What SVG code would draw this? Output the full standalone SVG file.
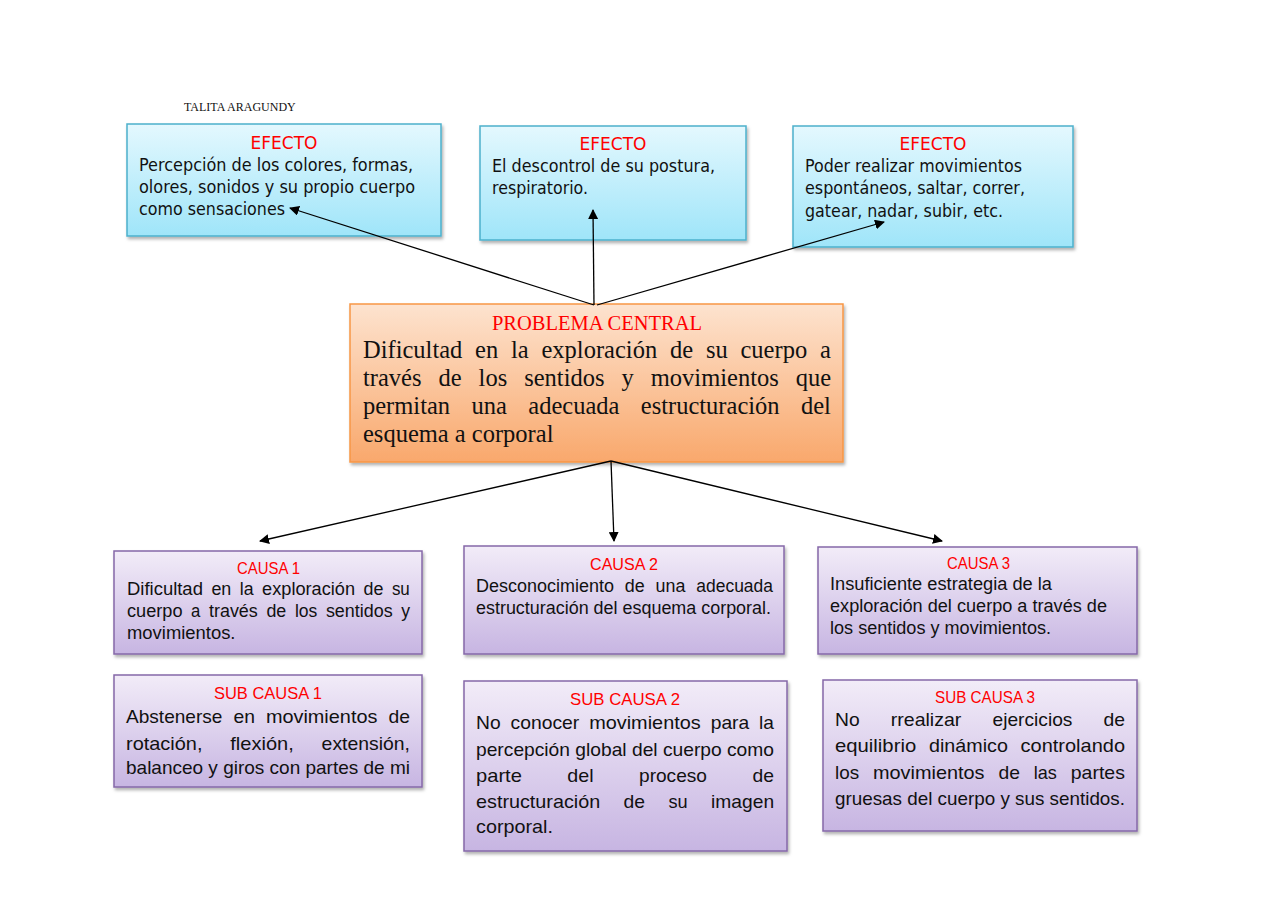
<svg xmlns="http://www.w3.org/2000/svg" width="1280" height="906" viewBox="0 0 1280 906">
<defs>
<linearGradient id="gBlue" x1="0" y1="0" x2="0" y2="1"><stop offset="0" stop-color="#e4f8fe"/><stop offset="1" stop-color="#9fe5f9"/></linearGradient>
<linearGradient id="gOrange" x1="0" y1="0" x2="0" y2="1"><stop offset="0" stop-color="#fde3cf"/><stop offset="1" stop-color="#f9a86c"/></linearGradient>
<linearGradient id="gPurple" x1="0" y1="0" x2="0" y2="1"><stop offset="0" stop-color="#f2ecf8"/><stop offset="1" stop-color="#c7b5e2"/></linearGradient>
<filter id="sh" x="-5%" y="-5%" width="112%" height="120%"><feDropShadow dx="1.5" dy="2.5" stdDeviation="1.5" flood-color="#000" flood-opacity="0.3"/></filter>
<marker id="ah" viewBox="0 0 10 10" refX="9" refY="5" markerWidth="10" markerHeight="10" markerUnits="userSpaceOnUse" orient="auto"><path d="M0,0 L10,5 L0,10 z" fill="#000"/></marker>
</defs>
<style>
.blue{fill:url(#gBlue);stroke:#4cb0cc;stroke-width:1.5}
.orange{fill:url(#gOrange);stroke:#f79646;stroke-width:1.5}
.purple{fill:url(#gPurple);stroke:#8568a8;stroke-width:1.5}
.ttl{fill:#ff0000;font-family:"DejaVu Sans",sans-serif;font-size:17px;text-anchor:middle}
.ttlc{fill:#ff0000;font-family:"Liberation Sans",sans-serif;font-size:17px}
.eff{fill:#111;font-family:"DejaVu Sans",sans-serif;font-size:17px}
.cen{fill:#111;font-family:"Liberation Serif",serif;font-size:24.5px}
.cau{fill:#111;font-family:"Liberation Sans",sans-serif;font-size:17.5px}
.sub{fill:#111;font-family:"Liberation Sans",sans-serif;font-size:19px}
.conn line{stroke:#000;stroke-width:1.3;marker-end:url(#ah)}
</style>
<rect width="1280" height="906" fill="#fff"/>
<text x="184" y="111" font-family="Liberation Serif, serif" font-size="12" fill="#111">TALITA ARAGUNDY</text>

<g id="efecto1">
<rect x="127" y="124" width="314" height="112" class="blue" filter="url(#sh)"/>
<text x="284" y="149" class="ttl">EFECTO</text>
<text x="139" y="171" class="eff" textLength="274" lengthAdjust="spacingAndGlyphs">Percepción de los colores, formas,</text>
<text x="139" y="193" class="eff" textLength="276" lengthAdjust="spacingAndGlyphs">olores, sonidos y su propio cuerpo</text>
<text x="139" y="215" class="eff" textLength="146" lengthAdjust="spacingAndGlyphs">como sensaciones</text>
</g>
<g id="efecto2">
<rect x="480" y="126" width="266" height="114" class="blue" filter="url(#sh)"/>
<text x="613" y="150" class="ttl">EFECTO</text>
<text x="492" y="172" class="eff" textLength="223" lengthAdjust="spacingAndGlyphs">El descontrol de su postura,</text>
<text x="492" y="194" class="eff" textLength="96" lengthAdjust="spacingAndGlyphs">respiratorio.</text>
</g>
<g id="efecto3">
<rect x="793" y="126" width="280" height="121" class="blue" filter="url(#sh)"/>
<text x="933" y="150" class="ttl">EFECTO</text>
<text x="805" y="172" class="eff" textLength="217" lengthAdjust="spacingAndGlyphs">Poder realizar movimientos</text>
<text x="805" y="194" class="eff" textLength="220" lengthAdjust="spacingAndGlyphs">espontáneos, saltar, correr,</text>
<text x="805" y="217" class="eff" textLength="198" lengthAdjust="spacingAndGlyphs">gatear, nadar, subir, etc.</text>
</g>

<g id="problema">
<rect x="350" y="304" width="493" height="158" class="orange" filter="url(#sh)"/>
<text x="597" y="330" fill="#ff0000" font-family="Liberation Serif, serif" font-size="20.5" text-anchor="middle">PROBLEMA CENTRAL</text>
<text y="358" class="cen"><tspan x="363">Dificultad</tspan> <tspan x="475.1">en</tspan> <tspan x="511">la</tspan> <tspan x="541.5">exploración</tspan> <tspan x="670">de</tspan> <tspan x="705.9">su</tspan> <tspan x="740.5">cuerpo</tspan> <tspan x="820">a</tspan></text>
<text y="386" class="cen"><tspan x="363">través</tspan> <tspan x="438.5">de</tspan> <tspan x="478.6">los</tspan> <tspan x="524.2">sentidos</tspan> <tspan x="621.5">y</tspan> <tspan x="650.8">movimientos</tspan> <tspan x="795.8">que</tspan></text>
<text y="414" class="cen"><tspan x="363">permitan</tspan> <tspan x="471.5">una</tspan> <tspan x="528.3">adecuada</tspan> <tspan x="640.8">estructuración</tspan> <tspan x="801">del</tspan></text>
<text x="363" y="442" class="cen">esquema a corporal</text>
</g>

<g id="causa1">
<rect x="114" y="551" width="308" height="103" class="purple" filter="url(#sh)"/>
<text x="237" y="574" class="ttlc" textLength="63" lengthAdjust="spacingAndGlyphs">CAUSA 1</text>
<text y="595" class="cau"><tspan x="127" textLength="75.9" lengthAdjust="spacingAndGlyphs">Dificultad</tspan> <tspan x="211.4" textLength="19.9" lengthAdjust="spacingAndGlyphs">en</tspan> <tspan x="239.8" textLength="13.8" lengthAdjust="spacingAndGlyphs">la</tspan> <tspan x="262.1" textLength="92.9" lengthAdjust="spacingAndGlyphs">exploración</tspan> <tspan x="363.5" textLength="19.9" lengthAdjust="spacingAndGlyphs">de</tspan> <tspan x="391.9" textLength="17.9" lengthAdjust="spacingAndGlyphs">su</tspan></text>
<text y="617" class="cau"><tspan x="127" textLength="55.5" lengthAdjust="spacingAndGlyphs">cuerpo</tspan> <tspan x="191.1" textLength="9.3" lengthAdjust="spacingAndGlyphs">a</tspan> <tspan x="209" textLength="48.8" lengthAdjust="spacingAndGlyphs">través</tspan> <tspan x="266.4" textLength="19.9" lengthAdjust="spacingAndGlyphs">de</tspan> <tspan x="294.9" textLength="22.4" lengthAdjust="spacingAndGlyphs">los</tspan> <tspan x="325.9" textLength="66.7" lengthAdjust="spacingAndGlyphs">sentidos</tspan> <tspan x="401.2" textLength="8.8" lengthAdjust="spacingAndGlyphs">y</tspan></text>
<text x="127" y="639" class="cau" textLength="108.5" lengthAdjust="spacingAndGlyphs">movimientos.</text>
</g>
<g id="causa2">
<rect x="464" y="546" width="320" height="108" class="purple" filter="url(#sh)"/>
<text x="590" y="570" class="ttlc" textLength="68" lengthAdjust="spacingAndGlyphs">CAUSA 2</text>
<text y="592" class="cau"><tspan x="476" textLength="137.9" lengthAdjust="spacingAndGlyphs">Desconocimiento</tspan> <tspan x="624.8" textLength="19.9" lengthAdjust="spacingAndGlyphs">de</tspan> <tspan x="655.6" textLength="29.8" lengthAdjust="spacingAndGlyphs">una</tspan> <tspan x="696.3" textLength="76.7" lengthAdjust="spacingAndGlyphs">adecuada</tspan></text>
<text x="476" y="614" class="cau" textLength="295" lengthAdjust="spacingAndGlyphs">estructuración del esquema corporal.</text>
</g>
<g id="causa3">
<rect x="818" y="547" width="319" height="107" class="purple" filter="url(#sh)"/>
<text x="947" y="569" class="ttlc" textLength="63" lengthAdjust="spacingAndGlyphs">CAUSA 3</text>
<text x="830" y="590" class="cau" textLength="222" lengthAdjust="spacingAndGlyphs">Insuficiente estrategia de la</text>
<text x="830" y="612" class="cau" textLength="277" lengthAdjust="spacingAndGlyphs">exploración del cuerpo a través de</text>
<text x="830" y="634" class="cau" textLength="221" lengthAdjust="spacingAndGlyphs">los sentidos y movimientos.</text>
</g>

<g id="subcausa1">
<rect x="114" y="675" width="308" height="112" class="purple" filter="url(#sh)"/>
<text x="214" y="699" class="ttlc" font-size="18" textLength="108" lengthAdjust="spacingAndGlyphs">SUB CAUSA 1</text>
<text y="723" class="sub"><tspan x="126" textLength="96.4" lengthAdjust="spacingAndGlyphs">Abstenerse</tspan> <tspan x="233.4" textLength="21.5" lengthAdjust="spacingAndGlyphs">en</tspan> <tspan x="265.9" textLength="111.5" lengthAdjust="spacingAndGlyphs">movimientos</tspan> <tspan x="388.4" textLength="21.5" lengthAdjust="spacingAndGlyphs">de</tspan></text>
<text y="750" class="sub"><tspan x="126" textLength="76.5" lengthAdjust="spacingAndGlyphs">rotación,</tspan> <tspan x="230.3" textLength="63.5" lengthAdjust="spacingAndGlyphs">flexión,</tspan> <tspan x="321.6" textLength="88.4" lengthAdjust="spacingAndGlyphs">extensión,</tspan></text>
<text x="126" y="774" class="sub" textLength="284" lengthAdjust="spacingAndGlyphs">balanceo y giros con partes de mi</text>
</g>
<g id="subcausa2">
<rect x="464" y="681" width="323" height="170" class="purple" filter="url(#sh)"/>
<text x="570" y="705" class="ttlc" font-size="18" textLength="110" lengthAdjust="spacingAndGlyphs">SUB CAUSA 2</text>
<text y="729" class="sub"><tspan x="476" textLength="24.6" lengthAdjust="spacingAndGlyphs">No</tspan> <tspan x="510.6" textLength="68.7" lengthAdjust="spacingAndGlyphs">conocer</tspan> <tspan x="589.2" textLength="111.5" lengthAdjust="spacingAndGlyphs">movimientos</tspan> <tspan x="710.7" textLength="38.5" lengthAdjust="spacingAndGlyphs">para</tspan> <tspan x="759.1" textLength="14.9" lengthAdjust="spacingAndGlyphs">la</tspan></text>
<text x="476" y="756" class="sub" textLength="298" lengthAdjust="spacingAndGlyphs">percepción global del cuerpo como</text>
<text y="782" class="sub"><tspan x="476" textLength="45.9" lengthAdjust="spacingAndGlyphs">parte</tspan> <tspan x="567.3" textLength="26.3" lengthAdjust="spacingAndGlyphs">del</tspan> <tspan x="639" textLength="68" lengthAdjust="spacingAndGlyphs">proceso</tspan> <tspan x="752.4" textLength="21.5" lengthAdjust="spacingAndGlyphs">de</tspan></text>
<text y="808" class="sub"><tspan x="476" textLength="124.2" lengthAdjust="spacingAndGlyphs">estructuración</tspan> <tspan x="623.6" textLength="21.5" lengthAdjust="spacingAndGlyphs">de</tspan> <tspan x="668.5" textLength="19.2" lengthAdjust="spacingAndGlyphs">su</tspan> <tspan x="711.1" textLength="63" lengthAdjust="spacingAndGlyphs">imagen</tspan></text>
<text x="476" y="833" class="sub" textLength="76.9" lengthAdjust="spacingAndGlyphs">corporal.</text>
</g>
<g id="subcausa3">
<rect x="823" y="680" width="314" height="151" class="purple" filter="url(#sh)"/>
<text x="935" y="703" class="ttlc" font-size="16.5" textLength="100" lengthAdjust="spacingAndGlyphs">SUB CAUSA 3</text>
<text y="726" class="sub"><tspan x="835" textLength="24.6" lengthAdjust="spacingAndGlyphs">No</tspan> <tspan x="890.8" textLength="70.5" lengthAdjust="spacingAndGlyphs">rrealizar</tspan> <tspan x="992.5" textLength="79.9" lengthAdjust="spacingAndGlyphs">ejercicios</tspan> <tspan x="1103.6" textLength="21.5" lengthAdjust="spacingAndGlyphs">de</tspan></text>
<text y="752" class="sub"><tspan x="835" textLength="81.2" lengthAdjust="spacingAndGlyphs">equilibrio</tspan> <tspan x="929" textLength="78.9" lengthAdjust="spacingAndGlyphs">dinámico</tspan> <tspan x="1020.6" textLength="104.4" lengthAdjust="spacingAndGlyphs">controlando</tspan></text>
<text y="779" class="sub"><tspan x="835" textLength="24.1" lengthAdjust="spacingAndGlyphs">los</tspan> <tspan x="873" textLength="111.5" lengthAdjust="spacingAndGlyphs">movimientos</tspan> <tspan x="998.4" textLength="21.5" lengthAdjust="spacingAndGlyphs">de</tspan> <tspan x="1033.8" textLength="23.1" lengthAdjust="spacingAndGlyphs">las</tspan> <tspan x="1070.8" textLength="54.1" lengthAdjust="spacingAndGlyphs">partes</tspan></text>
<text x="835" y="805" class="sub" textLength="290" lengthAdjust="spacingAndGlyphs">gruesas del cuerpo y sus sentidos.</text>
</g>

<g id="connectors" class="conn">
<line x1="594" y1="305" x2="290" y2="208"/>
<line x1="594" y1="305" x2="593" y2="210"/>
<line x1="597" y1="305" x2="884" y2="222"/>
<line x1="611" y1="461" x2="260" y2="541"/>
<line x1="611" y1="461" x2="614" y2="541"/>
<line x1="611" y1="461" x2="942" y2="541"/>
</g>
</svg>
